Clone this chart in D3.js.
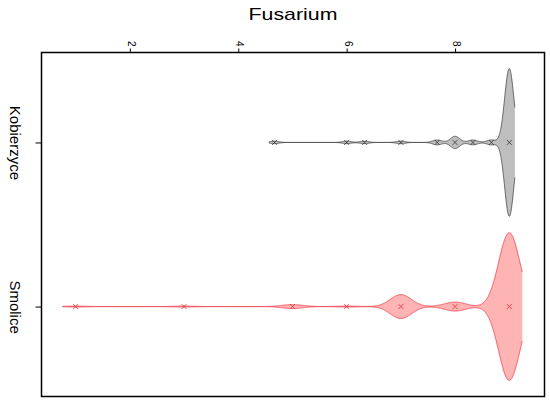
<!DOCTYPE html>
<html>
<head>
<meta charset="utf-8">
<script src="https://cdn.jsdelivr.net/npm/d3@7"></script>
<style>
    body { margin: 0; background: #ffffff; font-family: "Liberation Sans", Arial, Helvetica, sans-serif; }
</style>
</head>
<body>
<script>
    // datos (escala de enfermedad 1-9)
    const localidades = ["Kobierzyce", "Smolice"];
    const valoresKob = [4.67, 6, 6.33, 7, 7.67, 8, 8.33, 8.67, 9];
    const conteosKob = [1, 1, 1, 1, 2, 5, 2, 2, 60];
    const valoresSmo = [1, 3, 5, 6, 7, 8, 9];
    const conteosSmo = [1, 1, 4, 1, 24, 9, 148];
    const anchoBanda = [0.085, 0.195];   // ancho de banda del nucleo por localidad
    const marcasX = [2, 4, 6, 8];

    const ancho = 550, alto = 403;
    const margenes = { top: 52.5, right: 5.5, bottom: 6.5, left: 41.5 };

    const svg = d3.select("body").append("svg")
        .attr("width", ancho)
        .attr("height", alto);

    const escalaX = d3.scaleLinear()
        .domain([0.37, 9.65])
        .range([margenes.left, ancho - margenes.right]);

    const escalaY = d3.scalePoint()
        .domain(localidades)
        .range([margenes.top, alto - margenes.bottom])
        .padding(0.548);

    const grupos = [
        { nombre: "Kobierzyce", valores: valoresKob, conteos: conteosKob, h: anchoBanda[0],
          relleno: "#bebebe", borde: "#1a1a1a", grosor: 0.6, marca: "#333333" },
        { nombre: "Smolice", valores: valoresSmo, conteos: conteosSmo, h: anchoBanda[1],
          relleno: "#ffb4b4", borde: "#ee2a3a", grosor: 0.7, marca: "#e0303c" }
    ];

    // densidad por nucleo gaussiano, recortada cerca del rango de los datos
    function densidad(g) {
        const ext = 1.25 * g.h;
        const desde = d3.min(g.valores) - ext, hasta = d3.max(g.valores) + ext;
        const puntos = [];
        for (let v = desde; v <= hasta + 1e-9; v += 0.004) {
            let d = 0;
            g.valores.forEach((xi, i) => {
                d += g.conteos[i] * Math.exp(-((v - xi) * (v - xi)) / (2 * g.h * g.h));
            });
            puntos.push({ v, d });
        }
        return puntos;
    }

    const medioAncho = 0.45 * escalaY.step();

    grupos.forEach(g => {
        const puntos = densidad(g);
        const escalaW = d3.scaleLinear()
            .domain([0, d3.max(puntos, p => p.d)])
            .range([0, medioAncho]);
        const yc = escalaY(g.nombre);

        const area = d3.area()
            .x(p => escalaX(p.v))
            .y0(p => yc - escalaW(p.d))
            .y1(p => yc + escalaW(p.d));
        svg.append("path")
            .datum(puntos)
            .attr("d", area)
            .attr("fill", g.relleno);

        const arriba = d3.line().x(p => escalaX(p.v)).y(p => yc - escalaW(p.d));
        const abajo = d3.line().x(p => escalaX(p.v)).y(p => yc + escalaW(p.d));
        [arriba, abajo].forEach(linea => {
            svg.append("path")
                .datum(puntos)
                .attr("d", linea)
                .attr("fill", "none")
                .attr("stroke", g.borde)
                .attr("stroke-width", g.grosor);
        });

        svg.selectAll(null)
            .data(g.valores)
            .enter().append("path")
            .attr("d", d3.symbol().type(d3.symbolTimes).size(18))
            .attr("transform", v => `translate(${escalaX(v)},${yc})`)
            .attr("fill", "none")
            .attr("stroke", g.marca)
            .attr("stroke-width", 0.8);
    });

    // caja
    svg.append("rect")
        .attr("x", margenes.left)
        .attr("y", margenes.top)
        .attr("width", ancho - margenes.left - margenes.right)
        .attr("height", alto - margenes.top - margenes.bottom)
        .attr("fill", "none")
        .attr("stroke", "#000")
        .attr("stroke-width", 1.5);

    // eje superior (valores)
    const ejeX = svg.append("g")
        .attr("transform", `translate(0,${margenes.top})`)
        .call(d3.axisTop(escalaX).tickValues(marcasX).tickSize(4));
    ejeX.select(".domain").remove();
    ejeX.selectAll("line").attr("stroke", "#000");
    ejeX.selectAll("text")
        .attr("transform", "rotate(90)")
        .attr("x", -6)
        .attr("y", 2.5)
        .attr("dy", 0)
        .attr("text-anchor", "end")
        .attr("fill", "#000")
        .style("font-size", "10px")
        .style("font-family", "Liberation Sans, Arial, sans-serif");

    // eje izquierdo (localidades)
    const ejeY = svg.append("g")
        .attr("transform", `translate(${margenes.left},0)`)
        .call(d3.axisLeft(escalaY).tickSize(6));
    ejeY.select(".domain").remove();
    ejeY.selectAll("line").attr("stroke", "#000");
    ejeY.selectAll("text")
        .attr("transform", "rotate(90)")
        .attr("x", 0)
        .attr("y", 32)
        .attr("dy", 0)
        .attr("text-anchor", "middle")
        .attr("fill", "#000")
        .style("font-size", "15px")
        .style("font-family", "Liberation Sans, Arial, sans-serif");

    svg.append("text")
        .attr("x", (margenes.left + ancho - margenes.right) / 2)
        .attr("y", 19.5)
        .attr("text-anchor", "middle")
        .attr("textLength", 89)
        .attr("lengthAdjust", "spacingAndGlyphs")
        .style("font-size", "17px")
        .text("Fusarium");
</script>
</body>
</html>
